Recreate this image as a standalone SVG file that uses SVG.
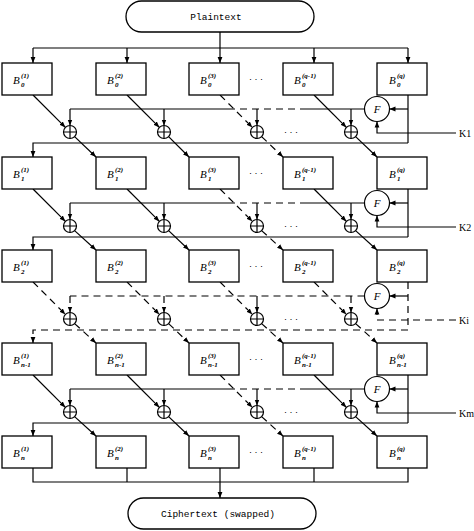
<svg xmlns="http://www.w3.org/2000/svg" width="474" height="531" viewBox="0 0 474 531">
<defs>
<marker id="ah" viewBox="0 0 10 10" refX="10" refY="5" markerWidth="6" markerHeight="6" markerUnits="userSpaceOnUse" orient="auto"><path d="M0,1 L10,5 L0,9 z" fill="#000"/></marker>
<style>
.bx{fill:#fff;stroke:#000;stroke-width:1.3}
.ln{fill:none;stroke:#000;stroke-width:1.2}
.ar{marker-end:url(#ah)}
.d{stroke-dasharray:7 5}
.b{font-family:"Liberation Serif",serif;font-style:italic;font-size:11px}
.s{font-family:"Liberation Serif",serif;font-style:italic;font-weight:bold;font-size:7px}
.m{font-family:"Liberation Mono",monospace;font-size:9.5px;text-anchor:middle}
.k{font-family:"Liberation Serif",serif;font-size:10px}
.f{font-family:"Liberation Serif",serif;font-style:italic;font-size:11px;text-anchor:middle}
.dots{font-family:"Liberation Sans",sans-serif;font-size:9px;text-anchor:middle}
.xo{fill:#fff;stroke:#000;stroke-width:1.2}
</style>
</defs>
<rect width="474" height="531" fill="#fff"/>

<g id="connectors">
<!-- top distribution -->
<path class="ln ar" d="M220,32 V63"/>
<path class="ln" d="M33,48 H408"/>
<path class="ln ar" d="M33,48 V63"/>
<path class="ln ar" d="M127,48 V63"/>
<path class="ln ar" d="M314,48 V63"/>
<path class="ln ar" d="M408,48 V63"/>

<!-- round 0 (Y=63) -->
<path class="ln ar" d="M33,95 L65.4,127.4"/><path class="ln ar" d="M74.6,136.6 L96,157"/>
<path class="ln ar" d="M127,95 L159.4,127.4"/><path class="ln ar" d="M168.6,136.6 L189,157"/>
<path class="ln ar d" d="M220,95 L252.4,127.4"/><path class="ln ar d" d="M261.6,136.6 L283,157"/>
<path class="ln ar" d="M314,95 L346.4,127.4"/><path class="ln ar" d="M355.6,136.6 L377,157"/>
<path class="ln" d="M70,109 H228"/><path class="ln d" d="M228,109 H300"/><path class="ln" d="M300,109 H364.5"/>
<path class="ln ar" d="M70,109 V125.5"/><path class="ln ar" d="M164,109 V125.5"/><path class="ln ar" d="M257,109 V125.5"/><path class="ln ar" d="M351,109 V125.5"/>
<path class="ln" d="M408,95 V143"/><path class="ln ar" d="M408,109 H389.5"/>
<path class="ln ar" d="M456,133 H377 V121.5"/>
<path class="ln ar" d="M408,143 H33 V157"/>

<!-- round 1 (Y=157) -->
<path class="ln ar" d="M33,189 L65.4,221.4"/><path class="ln ar" d="M74.6,230.6 L96,250"/>
<path class="ln ar" d="M127,189 L159.4,221.4"/><path class="ln ar" d="M168.6,230.6 L189,250"/>
<path class="ln ar d" d="M220,189 L252.4,221.4"/><path class="ln ar d" d="M261.6,230.6 L283,250"/>
<path class="ln ar" d="M314,189 L346.4,221.4"/><path class="ln ar" d="M355.6,230.6 L377,250"/>
<path class="ln" d="M70,203 H228"/><path class="ln d" d="M228,203 H300"/><path class="ln" d="M300,203 H364.5"/>
<path class="ln ar" d="M70,203 V219.5"/><path class="ln ar" d="M164,203 V219.5"/><path class="ln ar" d="M257,203 V219.5"/><path class="ln ar" d="M351,203 V219.5"/>
<path class="ln" d="M408,189 V237"/><path class="ln ar" d="M408,203 H389.5"/>
<path class="ln ar" d="M456,227 H377 V215.5"/>
<path class="ln ar" d="M408,237 H33 V250"/>

<!-- round i (Y=250), dashed -->
<path class="ln ar d" d="M33,282 L65.4,314.4"/><path class="ln ar d" d="M74.6,323.6 L96,343"/>
<path class="ln ar d" d="M127,282 L159.4,314.4"/><path class="ln ar d" d="M168.6,323.6 L189,343"/>
<path class="ln ar d" d="M220,282 L252.4,314.4"/><path class="ln ar d" d="M261.6,323.6 L283,343"/>
<path class="ln ar d" d="M314,282 L346.4,314.4"/><path class="ln ar d" d="M355.6,323.6 L377,343"/>
<path class="ln d" d="M364.5,296 H70"/>
<path class="ln ar d" d="M70,296 V312.5"/><path class="ln ar d" d="M164,296 V312.5"/><path class="ln ar" d="M257,296 V312.5"/><path class="ln ar d" d="M351,296 V312.5"/>
<path class="ln d" d="M408,282 V330"/><path class="ln ar" d="M402,296 H389.5"/><path class="ln d" d="M408,296 H402"/>
<path class="ln d" d="M456,320 H377 V312"/><path class="ln ar" d="M377,313 V308.5"/>
<path class="ln d" d="M408,330 H33 V338"/><path class="ln ar" d="M33,337 V343"/>

<!-- round n-1 (Y=343) -->
<path class="ln ar" d="M33,375 L65.4,407.4"/><path class="ln ar" d="M74.6,416.6 L96,436"/>
<path class="ln ar" d="M127,375 L159.4,407.4"/><path class="ln ar" d="M168.6,416.6 L189,436"/>
<path class="ln ar d" d="M220,375 L252.4,407.4"/><path class="ln ar d" d="M261.6,416.6 L283,436"/>
<path class="ln ar" d="M314,375 L346.4,407.4"/><path class="ln ar" d="M355.6,416.6 L377,436"/>
<path class="ln" d="M70,389 H228"/><path class="ln d" d="M228,389 H300"/><path class="ln" d="M300,389 H364.5"/>
<path class="ln ar" d="M70,389 V405.5"/><path class="ln ar" d="M164,389 V405.5"/><path class="ln ar" d="M257,389 V405.5"/><path class="ln ar" d="M351,389 V405.5"/>
<path class="ln" d="M408,375 V423"/><path class="ln ar" d="M408,389 H389.5"/>
<path class="ln ar" d="M456,413 H377 V401.5"/>
<path class="ln ar" d="M408,423 H33 V436"/>

<!-- output -->
<path class="ln" d="M33,468 V482 H408 V468"/>
<path class="ln" d="M127,468 V482"/>
<path class="ln" d="M314,468 V482"/>
<path class="ln ar" d="M220,468 V498"/>
</g>

<g id="plaintext"><rect class="bx" x="126" y="1" width="188" height="31" rx="15.5"/><text class="m" x="216" y="20">Plaintext</text></g>
<g id="ciphertext"><rect class="bx" x="128" y="498" width="188" height="31" rx="15.5"/><text class="m" x="218" y="517">Ciphertext (swapped)</text></g>

<!-- row 0 -->
<g id="b0-1"><rect class="bx" x="2" y="63" width="50" height="32"/><text class="b" x="13" y="84">B</text><text class="s" x="21" y="78">(1)</text><text class="s" x="21" y="87">0</text></g>
<g id="b0-2"><rect class="bx" x="96" y="63" width="50" height="32"/><text class="b" x="107" y="84">B</text><text class="s" x="115" y="78">(2)</text><text class="s" x="115" y="87">0</text></g>
<g id="b0-3"><rect class="bx" x="189" y="63" width="50" height="32"/><text class="b" x="200" y="84">B</text><text class="s" x="208" y="78">(3)</text><text class="s" x="208" y="87">0</text></g>
<g id="b0-q1"><rect class="bx" x="283" y="63" width="50" height="32"/><text class="b" x="294" y="84">B</text><text class="s" x="302" y="78">(q-1)</text><text class="s" x="302" y="87">0</text></g>
<g id="b0-q"><rect class="bx" x="377" y="63" width="50" height="32"/><text class="b" x="389" y="84">B</text><text class="s" x="397" y="78">(q)</text><text class="s" x="397" y="87">0</text></g>

<!-- row 1 -->
<g id="b1-1"><rect class="bx" x="2" y="157" width="50" height="32"/><text class="b" x="13" y="178">B</text><text class="s" x="21" y="172">(1)</text><text class="s" x="21" y="181">1</text></g>
<g id="b1-2"><rect class="bx" x="96" y="157" width="50" height="32"/><text class="b" x="107" y="178">B</text><text class="s" x="115" y="172">(2)</text><text class="s" x="115" y="181">1</text></g>
<g id="b1-3"><rect class="bx" x="189" y="157" width="50" height="32"/><text class="b" x="200" y="178">B</text><text class="s" x="208" y="172">(3)</text><text class="s" x="208" y="181">1</text></g>
<g id="b1-q1"><rect class="bx" x="283" y="157" width="50" height="32"/><text class="b" x="294" y="178">B</text><text class="s" x="302" y="172">(q-1)</text><text class="s" x="302" y="181">1</text></g>
<g id="b1-q"><rect class="bx" x="377" y="157" width="50" height="32"/><text class="b" x="389" y="178">B</text><text class="s" x="397" y="172">(q)</text><text class="s" x="397" y="181">1</text></g>

<!-- row 2 -->
<g id="b2-1"><rect class="bx" x="2" y="250" width="50" height="32"/><text class="b" x="13" y="271">B</text><text class="s" x="21" y="265">(1)</text><text class="s" x="21" y="274">2</text></g>
<g id="b2-2"><rect class="bx" x="96" y="250" width="50" height="32"/><text class="b" x="107" y="271">B</text><text class="s" x="115" y="265">(2)</text><text class="s" x="115" y="274">2</text></g>
<g id="b2-3"><rect class="bx" x="189" y="250" width="50" height="32"/><text class="b" x="200" y="271">B</text><text class="s" x="208" y="265">(3)</text><text class="s" x="208" y="274">2</text></g>
<g id="b2-q1"><rect class="bx" x="283" y="250" width="50" height="32"/><text class="b" x="294" y="271">B</text><text class="s" x="302" y="265">(q-1)</text><text class="s" x="302" y="274">2</text></g>
<g id="b2-q"><rect class="bx" x="377" y="250" width="50" height="32"/><text class="b" x="389" y="271">B</text><text class="s" x="397" y="265">(q)</text><text class="s" x="397" y="274">2</text></g>

<!-- row 3 -->
<g id="b3-1"><rect class="bx" x="2" y="343" width="50" height="32"/><text class="b" x="13" y="364">B</text><text class="s" x="21" y="358">(1)</text><text class="s" x="21" y="367">n-1</text></g>
<g id="b3-2"><rect class="bx" x="96" y="343" width="50" height="32"/><text class="b" x="107" y="364">B</text><text class="s" x="115" y="358">(2)</text><text class="s" x="115" y="367">n-1</text></g>
<g id="b3-3"><rect class="bx" x="189" y="343" width="50" height="32"/><text class="b" x="200" y="364">B</text><text class="s" x="208" y="358">(3)</text><text class="s" x="208" y="367">n-1</text></g>
<g id="b3-q1"><rect class="bx" x="283" y="343" width="50" height="32"/><text class="b" x="294" y="364">B</text><text class="s" x="302" y="358">(q-1)</text><text class="s" x="302" y="367">n-1</text></g>
<g id="b3-q"><rect class="bx" x="377" y="343" width="50" height="32"/><text class="b" x="389" y="364">B</text><text class="s" x="397" y="358">(q)</text><text class="s" x="397" y="367">n-1</text></g>

<!-- row 4 -->
<g id="b4-1"><rect class="bx" x="2" y="436" width="50" height="32"/><text class="b" x="13" y="457">B</text><text class="s" x="21" y="451">(1)</text><text class="s" x="21" y="460">n</text></g>
<g id="b4-2"><rect class="bx" x="96" y="436" width="50" height="32"/><text class="b" x="107" y="457">B</text><text class="s" x="115" y="451">(2)</text><text class="s" x="115" y="460">n</text></g>
<g id="b4-3"><rect class="bx" x="189" y="436" width="50" height="32"/><text class="b" x="200" y="457">B</text><text class="s" x="208" y="451">(3)</text><text class="s" x="208" y="460">n</text></g>
<g id="b4-q1"><rect class="bx" x="283" y="436" width="50" height="32"/><text class="b" x="294" y="457">B</text><text class="s" x="302" y="451">(q-1)</text><text class="s" x="302" y="460">n</text></g>
<g id="b4-q"><rect class="bx" x="377" y="436" width="50" height="32"/><text class="b" x="389" y="457">B</text><text class="s" x="397" y="451">(q)</text><text class="s" x="397" y="460">n</text></g>

<!-- F functions -->
<g id="f1"><circle class="xo" cx="377" cy="109" r="12.5"/><text class="f" x="377" y="113">F</text></g>
<g id="f2"><circle class="xo" cx="377" cy="203" r="12.5"/><text class="f" x="377" y="207">F</text></g>
<g id="fi"><circle class="xo" cx="377" cy="296" r="12.5"/><text class="f" x="377" y="300">F</text></g>
<g id="fm"><circle class="xo" cx="377" cy="389" r="12.5"/><text class="f" x="377" y="393">F</text></g>

<!-- XORs -->
<g id="xors" class="ln">
<circle class="xo" cx="70" cy="132" r="6.5"/><path class="ln" d="M63.5,132 H76.5 M70,125.5 V138.5"/>
<circle class="xo" cx="164" cy="132" r="6.5"/><path class="ln" d="M157.5,132 H170.5 M164,125.5 V138.5"/>
<circle class="xo" cx="257" cy="132" r="6.5"/><path class="ln" d="M250.5,132 H263.5 M257,125.5 V138.5"/>
<circle class="xo" cx="351" cy="132" r="6.5"/><path class="ln" d="M344.5,132 H357.5 M351,125.5 V138.5"/>
<circle class="xo" cx="70" cy="226" r="6.5"/><path class="ln" d="M63.5,226 H76.5 M70,219.5 V232.5"/>
<circle class="xo" cx="164" cy="226" r="6.5"/><path class="ln" d="M157.5,226 H170.5 M164,219.5 V232.5"/>
<circle class="xo" cx="257" cy="226" r="6.5"/><path class="ln" d="M250.5,226 H263.5 M257,219.5 V232.5"/>
<circle class="xo" cx="351" cy="226" r="6.5"/><path class="ln" d="M344.5,226 H357.5 M351,219.5 V232.5"/>
<circle class="xo" cx="70" cy="319" r="6.5"/><path class="ln" d="M63.5,319 H76.5 M70,312.5 V325.5"/>
<circle class="xo" cx="164" cy="319" r="6.5"/><path class="ln" d="M157.5,319 H170.5 M164,312.5 V325.5"/>
<circle class="xo" cx="257" cy="319" r="6.5"/><path class="ln" d="M250.5,319 H263.5 M257,312.5 V325.5"/>
<circle class="xo" cx="351" cy="319" r="6.5"/><path class="ln" d="M344.5,319 H357.5 M351,312.5 V325.5"/>
<circle class="xo" cx="70" cy="412" r="6.5"/><path class="ln" d="M63.5,412 H76.5 M70,405.5 V418.5"/>
<circle class="xo" cx="164" cy="412" r="6.5"/><path class="ln" d="M157.5,412 H170.5 M164,405.5 V418.5"/>
<circle class="xo" cx="257" cy="412" r="6.5"/><path class="ln" d="M250.5,412 H263.5 M257,405.5 V418.5"/>
<circle class="xo" cx="351" cy="412" r="6.5"/><path class="ln" d="M344.5,412 H357.5 M351,405.5 V418.5"/>
</g>

<!-- key labels -->
<g id="keys">
<text class="k" x="459" y="137">K1</text>
<text class="k" x="459" y="231">K2</text>
<text class="k" x="459" y="324">Ki</text>
<text class="k" x="459" y="417">Km</text>
</g>

<!-- ellipses -->
<g id="dots">
<text class="dots" x="256" y="82">· · ·</text>
<text class="dots" x="291" y="135">· · ·</text>
<text class="dots" x="256" y="176">· · ·</text>
<text class="dots" x="291" y="229">· · ·</text>
<text class="dots" x="256" y="269">· · ·</text>
<text class="dots" x="291" y="322">· · ·</text>
<text class="dots" x="256" y="362">· · ·</text>
<text class="dots" x="291" y="415">· · ·</text>
<text class="dots" x="256" y="455">· · ·</text>
</g>
</svg>
